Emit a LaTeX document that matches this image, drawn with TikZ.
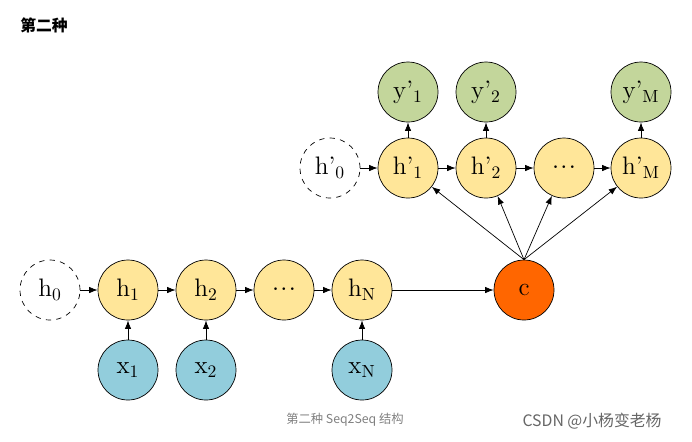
\documentclass[tikz,border=0pt]{standalone}
\usepackage{fontspec}
\newfontfamily\cjk{Noto Sans CJK SC}
\usetikzlibrary{arrows.meta}
\definecolor{hyel}{HTML}{FFE699}
\definecolor{xblue}{HTML}{92CDDC}
\definecolor{ygreen}{HTML}{C3D69B}
\definecolor{corange}{HTML}{FF6600}
\tikzset{cell/.style={draw,circle,minimum size=1.2cm,inner sep=0pt,font=\Large}}
\tikzset{hid/.style={cell,fill=hyel}}
\tikzset{inp/.style={cell,fill=xblue}}
\tikzset{outp/.style={cell,fill=ygreen}}
\tikzset{init/.style={cell,dashed}}
\newcommand{\bdots}{\textbf{$\cdot\!\cdot\!\cdot$}}
\begin{document}
\begin{tikzpicture}[>=Latex,x=0.02cm,y=-0.02cm]
    \useasboundingbox (0,0) rectangle (692,441);
    \node[font=\cjk\bfseries\small] (title) at (44,25) {第二种};

    % encoder
    \node[init] (h0) at (50,290) {h$_0$};
    \foreach \t [count=\i from 1] in {1,2}{
      \node[hid] (h\i) at (50+78*\i,290) {h$_{\t}$};
      \node[inp] (x\i) at (50+78*\i,370) {x$_{\t}$};
      \draw[->] (x\i) -- (h\i);
    }
    \node[hid] (h3) at (284,290) {\bdots};
    \node[hid] (h4) at (362,290) {h$_\mathrm{N}$};
    \node[inp] (x4) at (362,370) {x$_\mathrm{N}$};
    \draw[->] (x4) -- (h4);
    \foreach \i [count=\j from 0] in {1,...,4}{
      \draw[->] (h\j) -- (h\i);
    }
    \node[cell,fill=corange] (c) at (524,290) {c};
    \draw[->] (h4) -- (c);

    % decoder
    \node[init] (d0) at (330,168) {h'$_0$};
    \node[hid] (d1) at (408,168) {h'$_1$};
    \node[hid] (d2) at (486,168) {h'$_2$};
    \node[hid] (d3) at (564,168) {\bdots};
    \node[hid] (d4) at (641,168) {h'$_\mathrm{M}$};
    \node[outp] (y1) at (408,92) {y'$_1$};
    \node[outp] (y2) at (486,92) {y'$_2$};
    \node[outp] (y4) at (641,92) {y'$_\mathrm{M}$};
    \foreach \i [count=\j from 0] in {1,...,4}{
      \draw[->] (d\j) -- (d\i);
      \draw[->] (c.north) -- (d\i);
    }
    \foreach \i in {1,2,4}{
      \draw[->] (d\i) -- (y\i);
    }

    \node[font=\cjk\scriptsize,text=gray] (cap) at (345,420) {第二种 Seq2Seq 结构};
    \node[font=\cjk\small,text=gray!80!black] (mark) at (592,421) {CSDN @小杨变老杨};
\end{tikzpicture}
\end{document}
